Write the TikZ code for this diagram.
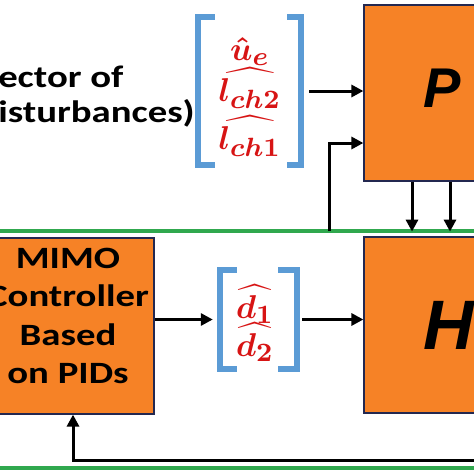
\documentclass[tikz,border=0pt]{standalone}
\usepackage{amsmath,bm}
\usepackage{fontspec}
\setmainfont{Carlito}
\newfontfamily\arialfont{Liberation Sans}
\DeclareMathSizes{10}{10}{8}{6}
\usetikzlibrary{arrows.meta,positioning}

\definecolor{boxfill}{RGB}{246,130,38}
\definecolor{boxline}{RGB}{35,40,80}
\definecolor{brackblue}{RGB}{91,155,213}
\definecolor{sigred}{RGB}{215,20,20}
\definecolor{railgreen}{RGB}{48,168,78}

\tikzset{
  blk/.style={draw=boxline, line width=1.2pt, fill=boxfill, inner sep=0pt},
  sig/.style={line width=3pt, -{Triangle[length=12pt,width=12pt]}},
  brk/.style={draw=brackblue, line width=6pt},
  rail/.style={draw=railgreen, line width=4pt},
  lbl/.style={font=\bfseries\fontsize{31}{38.5}\selectfont, inner sep=0pt, xscale=1.25, transform shape},
  letterP/.style={font=\arialfont\bfseries\itshape\fontsize{56}{60}\selectfont},
  letterH/.style={font=\arialfont\bfseries\itshape\fontsize{70}{74}\selectfont},
  vecent/.style={text=sigred, inner sep=0pt, font=\boldmath},
  vecbox/.style={inner sep=0pt},
}

\begin{document}
\begin{tikzpicture}[x=1pt,y=-1pt]
	\useasboundingbox (0,0) rectangle (474,474);
	\clip (0,0) rectangle (474,474);

	% blocks
	\node[blk, minimum width=156, minimum height=176] (P) at (442,93) {};
	\node[letterP] (Ptxt) at (442,88) {P};
	\node[blk, minimum width=166, minimum height=176] (H) at (447,325) {};
	\node[letterH] (Htxt) at (449,325) {H};
	\node[blk, minimum width=172, minimum height=176] (mimo) at (68,326) {};
	\node[lbl, align=center] (mimotxt) at (68,316) {MIMO\\Controller\\Based\\on PIDs};

	% disturbance label
	\node[lbl, anchor=base west] (dist1) at (-2,87) {ector of};
	\node[lbl, anchor=base west] (dist2) at (-2,122) {isturbances)};

	% vectors
	\node[vecbox, minimum width=103, minimum height=148] (vecu) at (249.5,91) {};
	\draw[brk] ([xshift=17pt]vecu.north west) -- (vecu.north west) -- (vecu.south west) -- ++(17,0);
	\draw[brk] ([xshift=-14pt]vecu.north east) -- (vecu.north east) -- (vecu.south east) -- ++(-14,0);
	\node[vecent, scale=3.3] (ue) at (250,52) {$\hat{\bm{u}}_{\bm{e}}$};
	\node[vecent, scale=3.3] (lch2) at (250,88) {$\widehat{\bm{l}_{\bm{ch2}}}$};
	\node[vecent, scale=3.3] (lch1) at (250,136) {$\widehat{\bm{l}_{\bm{ch1}}}$};

	\node[vecbox, minimum width=77, minimum height=99] (vecd) at (258.5,319.5) {};
	\draw[brk] ([xshift=17pt]vecd.north west) -- (vecd.north west) -- (vecd.south west) -- ++(17,0);
	\draw[brk] ([xshift=-19pt]vecd.north east) -- (vecd.north east) -- (vecd.south east) -- ++(-19,0);
	\node[vecent, scale=3.3] (d1) at (255,304) {$\widehat{\bm{d}_{\bm{1}}}$};
	\node[vecent, scale=3.3] (d2) at (255,342) {$\widehat{\bm{d}_{\bm{2}}}$};

	% rails
	\draw[rail] (-5,231) -- (480,231);
	\draw[rail] (-5,468) -- (480,468);
	\coordinate (tapP) at (329,231);
	\coordinate (fbk) at (480,460);

	% signals
	\draw[sig] ([xshift=8pt]vecu.east) -- (vecu.east -| P.west);
	\draw[sig] (tapP) |- ([yshift=-50pt]P.west);
	\draw[sig] ([xshift=-30pt]P.south) -- ++(0,50);
	\draw[sig] ([xshift=8pt]P.south) -- ++(0,50);
	\draw[sig] (vecd.west -| mimo.east) -- ([xshift=-7pt]vecd.west);
	\draw[sig] ([xshift=5pt]vecd.east) -- (vecd.east -| H.west);
	\draw[sig] (fbk) -| ([xshift=5pt]mimo.south);
\end{tikzpicture}
\end{document}
